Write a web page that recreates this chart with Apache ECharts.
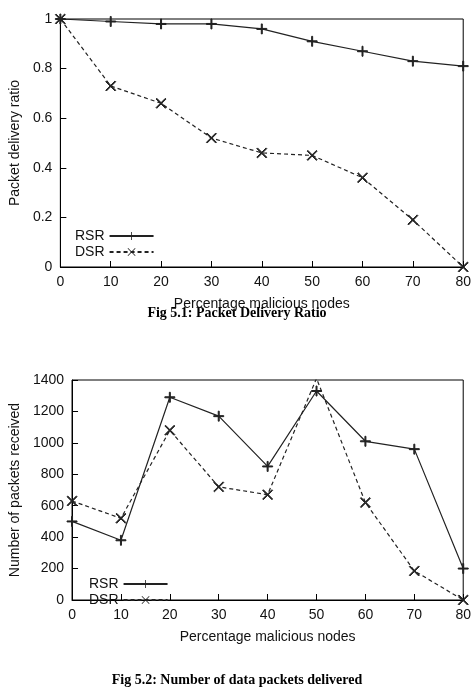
<!DOCTYPE html>
<html><head><meta charset="utf-8">
<script src="https://cdn.jsdelivr.net/npm/echarts@6/dist/echarts.min.js"></script>
<style>body{margin:0;background:#fff}#c{width:474px;height:690px}</style>
</head><body><div id="c"></div>
<script>
var xCats = [0, 10, 20, 30, 40, 50, 60, 70, 80]
var pdrRSR = [1, 0.99, 0.98, 0.98, 0.96, 0.91, 0.87, 0.83, 0.81]
var pdrDSR = [1, 0.73, 0.66, 0.52, 0.46, 0.45, 0.36, 0.19, 0]
var pktRSR = [500, 380, 1290, 1170, 850, 1330, 1010, 960, 200]
var pktDSR = [630, 520, 1080, 720, 670, 1410, 620, 185, 0]

var chart = echarts.init(document.getElementById('c'))
var font = 'Liberation Sans'
function xAxis(idx) {
  return {
    type: 'value', gridIndex: idx, min: 0, max: 80, interval: 10,
    name: 'Percentage malicious nodes', nameLocation: 'middle', nameGap: 30,
    nameTextStyle: { fontFamily: font, fontSize: 14, color: '#111' },
    axisLine: { lineStyle: { color: '#000' } }, axisTick: { inside: true, length: 6, lineStyle: { color: '#000' } },
    axisLabel: { fontFamily: font, fontSize: 14, color: '#111', margin: 8 },
    splitLine: { show: false }
  }
}
function yAxis(idx, max, interval, name, fmt) {
  return {
    type: 'value', gridIndex: idx, min: 0, max: max, interval: interval,
    name: name, nameLocation: 'middle', nameGap: idx ? 44 : 38,
    nameTextStyle: { fontFamily: font, fontSize: 14, color: '#111' },
    axisLine: { lineStyle: { color: '#000' } }, axisTick: { inside: true, length: 6, lineStyle: { color: '#000' } },
    axisLabel: { fontFamily: font, fontSize: 14, color: '#111', formatter: fmt },
    splitLine: { show: false }
  }
}
function line(name, data, x, y, dashed, sym) {
  return {
    name: name, type: 'line', xAxisIndex: x, yAxisIndex: y,
    data: xCats.map(function (v, i) { return [v, data[i]] }),
    symbol: sym, symbolSize: 10, showSymbol: true,
    lineStyle: { color: '#222', width: 1.2, type: dashed ? [4, 3] : 'solid' },
    itemStyle: { color: '#222', borderColor: '#222' }
  }
}
var plusSym = 'path://M4.5,0h1v10h-1zM0,4.5h10v1h-10z'
var crossSym = 'path://M0,0.7L0.7,0L10,9.3L9.3,10zM10,0.7L9.3,0L0,9.3L0.7,10z'

chart.setOption({
  animation: false,
  grid: [
    { left: 57, right: 8, top: 19, height: 248, show: true, borderColor: '#000', borderWidth: 1 },
    { left: 64, right: 8, top: 380, height: 220, show: true, borderColor: '#000', borderWidth: 1 }
  ],
  xAxis: [xAxis(0), xAxis(1)],
  yAxis: [
    yAxis(0, 1, 0.2, 'Packet delivery ratio', function (v) { return v === 1 ? '1' : v === 0 ? '0' : v.toFixed(1) }),
    yAxis(1, 1400, 200, 'Number of packets received', function (v) { return String(v) })
  ],
  legend: [
    { data: ['RSR', 'DSR'], left: 70, top: 224, orient: 'vertical', itemGap: 2, itemWidth: 44, itemHeight: 10,
      textStyle: { fontFamily: font, fontSize: 14, color: '#111' }, align: 'right' },
    { data: ['RSR2', 'DSR2'], left: 84, top: 572, orient: 'vertical', itemGap: 2, itemWidth: 44, itemHeight: 10,
      formatter: function (n) { return n.slice(0, 3) },
      textStyle: { fontFamily: font, fontSize: 14, color: '#111' }, align: 'right' }
  ],
  series: [
    line('RSR', pdrRSR, 0, 0, false, plusSym),
    line('DSR', pdrDSR, 0, 0, true, crossSym),
    line('RSR2', pktRSR, 1, 1, false, plusSym),
    line('DSR2', pktDSR, 1, 1, true, crossSym)
  ],
  graphic: [
    { type: 'text', left: 'center', top: 306, style: { text: 'Fig 5.1: Packet Delivery Ratio', font: 'bold 14px "Liberation Serif"', fill: '#000' } },
    { type: 'text', left: 'center', top: 673, style: { text: 'Fig 5.2: Number of data packets delivered', font: 'bold 14px "Liberation Serif"', fill: '#000' } }
  ]
})
</script></body></html>
